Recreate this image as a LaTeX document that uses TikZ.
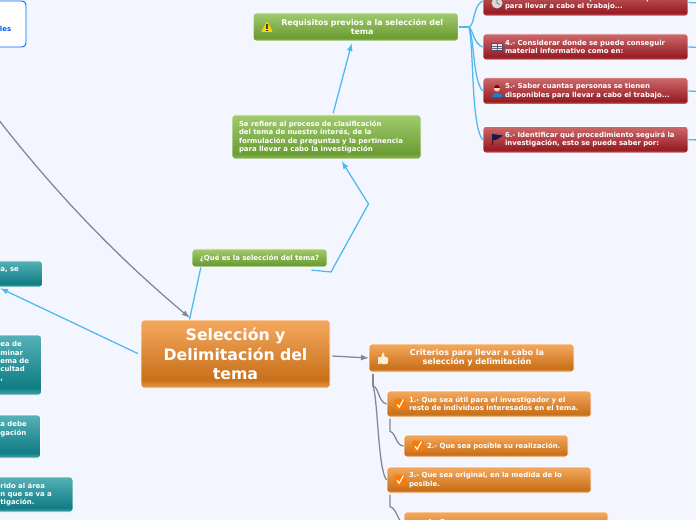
\documentclass[tikz,border=0pt]{standalone}
\usepackage{fontspec}
\setmainfont{DejaVu Sans}
\usetikzlibrary{arrows,calc}
\newdimen\pxu
\pxu=0.75pt
\definecolor{pagebg}{HTML}{F3F6FE}
\definecolor{linkblue}{HTML}{4DB9EE}
\definecolor{linkgray}{HTML}{85868F}
\definecolor{orangetop}{HTML}{F5A95E}
\definecolor{orangelow}{HTML}{C8701A}
\definecolor{orangeend}{HTML}{EB9A48}
\definecolor{greentop}{HTML}{A1CB6F}
\definecolor{greenlow}{HTML}{6C9C33}
\definecolor{greenend}{HTML}{8FBB5A}
\definecolor{redtop}{HTML}{CC6A6C}
\definecolor{redlow}{HTML}{971C24}
\definecolor{redend}{HTML}{C55C60}
\definecolor{tealtop}{HTML}{55B1B7}
\definecolor{teallow}{HTML}{107C84}
\definecolor{tealend}{HTML}{47A6AC}
\pgfdeclareverticalshading{orangebar}{100bp}{color(0bp)=(orangeend); color(25bp)=(orangeend); color(31bp)=(orangelow); color(75bp)=(orangetop); color(100bp)=(orangetop)}
\pgfdeclareverticalshading{greenbar}{100bp}{color(0bp)=(greenend); color(25bp)=(greenend); color(31bp)=(greenlow); color(75bp)=(greentop); color(100bp)=(greentop)}
\pgfdeclareverticalshading{redbar}{100bp}{color(0bp)=(redend); color(25bp)=(redend); color(31bp)=(redlow); color(75bp)=(redtop); color(100bp)=(redtop)}
\pgfdeclareverticalshading{tealbar}{100bp}{color(0bp)=(tealend); color(25bp)=(tealend); color(31bp)=(teallow); color(75bp)=(tealtop); color(100bp)=(tealtop)}
\begin{document}
\begin{tikzpicture}[
		x=0.75pt, y=-0.75pt,
		block/.style={draw=white, line width=0.6pt, rounded corners=2pt, text=white, inner xsep=0pt, inner ysep=0pt, font=\bfseries\fontsize{5.2}{6.2}\selectfont},
		orangeblock/.style={block, shading=orangebar},
		greenblock/.style={block, shading=greenbar},
		redblock/.style={block, shading=redbar},
		tealblock/.style={block, shading=tealbar, anchor=west, inner xsep=6\pxu, align=left},
		size/.style n args={2}{minimum width=#1\pxu, minimum height=#2\pxu, text width=#1\pxu},
		lefttext/.style={execute at begin node={\leftskip=#1\pxu\rightskip=0pt plus 1fil\parfillskip=0pt plus 1fil\relax}},
		midtext/.style={execute at begin node={\leftskip=#1\pxu plus 1fil\rightskip=0pt plus 1fil\parfillskip=0pt\relax}},
		arrow/.style={-latex},
		bluelink/.style={draw=linkblue, line width=0.95pt},
		graylink/.style={draw=linkgray, line width=0.95pt},
		warnicon/.pic={
			\fill[yellow!70!orange, rounded corners=0.8pt] (-6,5) -- (0,-6) -- (6,5) -- cycle;
			\fill[black!75] (-0.8,-2.5) rectangle (0.8,2);
			\fill[black!75] (-0.8,3) rectangle (0.8,4.2);
		},
		clockicon/.pic={
			\fill[white!85!black] (0,0) circle (5.5);
			\draw[black!60, line width=0.5pt] (0,-3.5) -- (0,0) -- (2.5,1.5);
		},
		bookicon/.pic={
			\fill[black!50!blue!40!gray] (-6,-4.5) rectangle (6,4.5);
			\fill[white!90!blue] (-5,-3.5) rectangle (-0.5,3);
			\fill[white!90!blue] (0.5,-3.5) rectangle (5,3);
			\draw[black!60, line width=0.3pt] (-5,-1.5) -- (5,-1.5) (-5,0.5) -- (5,0.5);
		},
		personicon/.pic={
			\fill[cyan!70!blue] (-5.5,6.5) .. controls (-5.5,1) and (5.5,1) .. (5.5,6.5) -- cycle;
			\fill[orange!30!white] (0,-2.5) circle (3);
			\fill[red!50!black] (-3,-3) .. controls (-3,-7) and (3,-7) .. (3,-3) -- cycle;
		},
		flagicon/.pic={
			\draw[red!45!black, line width=0.5pt] (-5,-5) -- (-5,6);
			\fill[black!75!blue!80!gray] (-5,-5) -- (6,-3.5) -- (1,0) -- (-5,2) -- cycle;
		},
		thumbicon/.pic={
			\fill[orange!15!white] (-5,-1) rectangle (-2.5,6);
			\fill[orange!15!white, rounded corners=1pt] (-2,-0.5) -- (0,-6) -- (1.5,-5) -- (1,-1) -- (5,-1) -- (5,6) -- (-2,6) -- cycle;
		},
		checkicon/.pic={
			\fill[orange!90!red!95!yellow, rounded corners=0.8pt] (-5.5,-5.5) rectangle (5.5,5.5);
			\draw[white, line width=0.9pt] (-3,0.5) -- (-0.8,3.2) -- (3.5,-4.5);
		},
	]
	\path[fill=pagebg] (0,0) rectangle (696,520);
	\clip (0,0) rectangle (696,520);

	\coordinate (farleft) at (-12,106);
	\coordinate (stubthree) at (700,3);
	\coordinate (stubfour) at (700,47.5);
	\coordinate (stubfive) at (700,91.5);
	\coordinate (stubsix) at (700,140);
	\coordinate (bendone) at (331,272);
	\coordinate (bendtwo) at (368.5,204);

	\node at (235.5,354) (root) [orangeblock, size={189}{68}, align=center, font=\bfseries\fontsize{11.8}{14.6}\selectfont] {Selección y\\Delimitación del\\tema};

	\node at (355.7,27) (requisitos) [greenblock, size={205}{28}, midtext=13, font=\bfseries\fontsize{5.95}{6.8}\selectfont] {Requisitos previos a la selección del\\tema};
	\node at (326.5,137) (refiere) [greenblock, size={189}{44}, lefttext=7] {Se refiere al proceso de clasificación\\del tema de nuestro interés, de la\\formulación de preguntas y la pertinencia\\para llevar a cabo la investigación};
	\node at (259.5,258) (quees) [greenblock, size={135}{18}, midtext=0] {¿Qué es la selección del tema?};

	\node at (585.5,2.5) (saberthree) [redblock, size={205}{27}, lefttext=22] {3.- Saber cuanto tiempo se tiene disponible\\para llevar a cabo el trabajo...};
	\node at (585.5,47) (saberfour) [redblock, size={205}{26}, lefttext=22] {4.- Considerar donde se puede conseguir\\material informativo como en:};
	\node at (585.5,91) (saberfive) [redblock, size={205}{26.5}, lefttext=22] {5.- Saber cuantas personas se tienen\\disponibles para llevar a cabo el trabajo...};
	\node at (585.5,139.7) (sabersix) [redblock, size={205}{26.5}, lefttext=22] {6.- Identificar qué procedimiento seguirá la\\investigación, esto se puede saber por:};

	\node at (471.5,358) (criterios) [orangeblock, size={205}{28}, midtext=11, font=\bfseries\fontsize{6.05}{6.8}\selectfont] {Criterios para llevar a cabo la\\selección y delimitación};
	\node at (489,404) (critone) [orangeblock, size={204}{26}, lefttext=22] {1.- Que sea útil para el investigador y el\\resto de individuos interesados en el tema.};
	\node at (486,446) (crittwo) [orangeblock, size={164}{22}, lefttext=23] {2.- Que sea posible su realización.};
	\node at (489,480) (critthree) [orangeblock, size={204}{26}, lefttext=22] {3.- Que sea original, en la medida de lo\\posible.};
	\node at (506,526) (critfour) [orangeblock, size={204}{28}, lefttext=23] {4.- Que sea\\~};

	\node at (-6,274) (tealone) [tealblock, minimum height=26\pxu, text width=36\pxu] {a, se\\~};
	\node at (-6,365) (tealtwo) [tealblock, minimum height=60\pxu, text width=35\pxu] {ea de\\minar\\ema de\\cultad\\,\\~};
	\node at (-6,436.5) (tealthree) [tealblock, minimum height=43\pxu, text width=34\pxu] {a debe\\gación\\~\\~};
	\node at (-6,494.5) (tealfour) [tealblock, minimum height=35\pxu, text width=66.5\pxu] {rido al área\\n que se va a\\tigación.};

	\node at (-10,24) (blueone) [draw=blue!60!cyan, line width=0.7pt, fill=white, rounded corners=3pt, minimum width=72\pxu, minimum height=46\pxu, inner xsep=0pt, text width=72\pxu, text=blue!65!cyan, font=\bfseries\fontsize{5.2}{6.2}\selectfont, execute at begin node={\leftskip=46\pxu\relax}] {\raisebox{-16\pxu}{les}};

	\pic at (267,27) {warnicon};
	\pic at (497,3) {clockicon};
	\pic at (497,47.5) {bookicon};
	\pic at (497,91) {personicon};
	\pic at (497,139) {flagicon};
	\pic at (383,358) {thumbicon};
	\pic at (400,404) {checkicon};
	\pic at (418,446) {checkicon};
	\pic at (400,480) {checkicon};
	\pic at (418,526) {checkicon};

	\draw[bluelink] ([xshift=-34.5pt]root.north) -- ([xshift=-44pt]quees.south);
	\draw[bluelink, arrow] ([xshift=39pt,yshift=-2pt]quees.south) -- (bendone) -- (bendtwo) -- ([xshift=11.5pt,yshift=-1.5pt]refiere.south);
	\draw[bluelink, arrow] ([xshift=5pt,yshift=1pt]refiere.north) -- ([yshift=-1.5pt,xshift=-3pt]requisitos.south);
	\draw[bluelink, arrow] ([yshift=33pt]root.west) ++(-2pt,-32.7pt) -- ([xshift=-13.5pt,yshift=-0.7pt]tealone.south);
	\draw[graylink, arrow] ([xshift=1.5pt,yshift=-1.5pt]root.east) -- (criterios.west);
	\draw[graylink, arrow] (farleft) .. controls (52,190) and (115,255) .. ([xshift=-34.5pt,yshift=1.5pt]root.north);

	\draw[bluelink, line width=1.4pt] (requisitos.east) -- (469,27);
	\draw[bluelink] (469,27) .. controls (475,25) and (473,5) .. ([yshift=1pt]saberthree.west);
	\draw[bluelink] (469,27) .. controls (473,30) and (474,44) .. (saberfour.west);
	\draw[bluelink] (469,27) .. controls (474,38) and (473,80) .. (saberfive.west);
	\draw[bluelink] (469,27) .. controls (474,50) and (471,125) .. (sabersix.west);
	\draw[bluelink] (saberthree.east) -- (stubthree);
	\draw[bluelink] (saberfour.east) -- (stubfour);
	\draw[bluelink] (saberfive.east) -- (stubfive);
	\draw[bluelink] (sabersix.east) -- (stubsix);

	\draw[graylink, line width=1.4pt] ([xshift=-74pt,yshift=-1pt]criterios.south) -- ++(0,-9.5pt);
	\draw[graylink] (373,386) .. controls (379,387) and (378,402) .. (critone.west);
	\draw[graylink] (373,386) .. controls (378,400) and (378,470) .. (critthree.west);
	\draw[graylink] ([xshift=-74.2pt,yshift=-1pt]critone.south) -- ++(0,-9.5pt) .. controls (396,433) and (396,446) .. (crittwo.west);
	\draw[graylink] ([xshift=-74.2pt,yshift=-1pt]critthree.south) -- ++(0,-9pt) .. controls (396,508) and (398,520) .. (critfour.west);
\end{tikzpicture}
\end{document}
